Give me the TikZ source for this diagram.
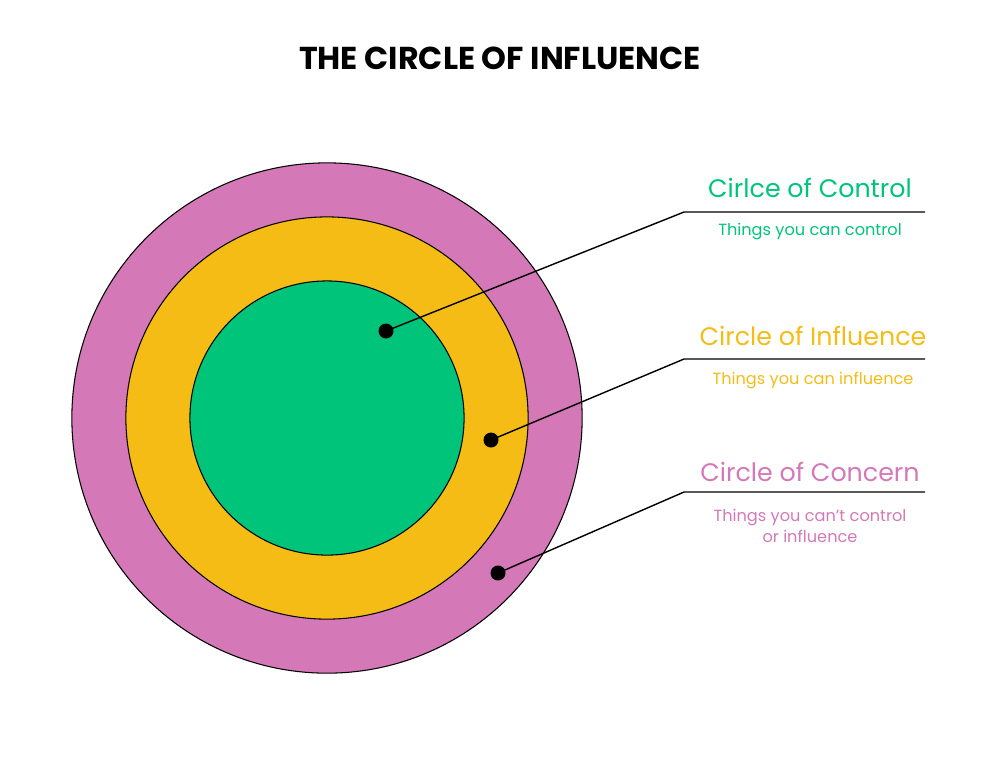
\documentclass[tikz,border=0pt]{standalone}
\usepackage{fontspec}
\setmainfont{Poppins}
\usetikzlibrary{positioning}
\definecolor{concern}{HTML}{D478B7}
\definecolor{influence}{HTML}{F5BC16}
\definecolor{control}{HTML}{00C47A}
\tikzset{
  ring/.style={draw=black, line width=0.3pt},
  pin/.style={circle, fill=black, inner sep=0pt, minimum size=0.15cm},
  head/.style={font=\fontsize{7.2}{8}\selectfont},
  sub/.style={font=\fontsize{4.6}{6}\selectfont, align=center}
}
\begin{document}
\begin{tikzpicture}[x=0.01cm, y=-0.01cm]
        \useasboundingbox (0,0) rectangle (1000,756);
        \node[font=\fontsize{9}{10}\selectfont\bfseries] (title) at (500,58) {THE CIRCLE OF INFLUENCE};

        \fill[concern, ring] (327,418) circle (2.55cm);
        \fill[influence, ring] (327,418) circle (2.01cm);
        \fill[control, ring] (327,418) circle (1.37cm);

        \node[pin] (p1) at (386,331) {};
        \node[pin] (p2) at (491,440) {};
        \node[pin] (p3) at (498,573) {};

        \coordinate (k1) at (684,212);
        \coordinate (k2) at (684,359);
        \coordinate (k3) at (684,492);
        \coordinate (e1) at (925,212);
        \coordinate (e2) at (925,359);
        \coordinate (e3) at (925,492);

        \draw (p1.center) -- (k1) -- (e1)
            (p2.center) -- (k2) -- (e2)
            (p3.center) -- (k3) -- (e3);

        \node[head, text=control] (h1) at (810,188) {Cirlce of Control};
        \node[sub, text=control] (s1) at (810,232) {Things you can control};
        \node[head, text=influence] (h2) at (813,336) {Circle of Influence};
        \node[sub, text=influence] (s2) at (813,380) {Things you can influence};
        \node[head, text=concern] (h3) at (810,472) {Circle of Concern};
        \node[sub, text=concern] (s3) at (810,526) {Things you can’t control\\or influence};
\end{tikzpicture}
\end{document}
